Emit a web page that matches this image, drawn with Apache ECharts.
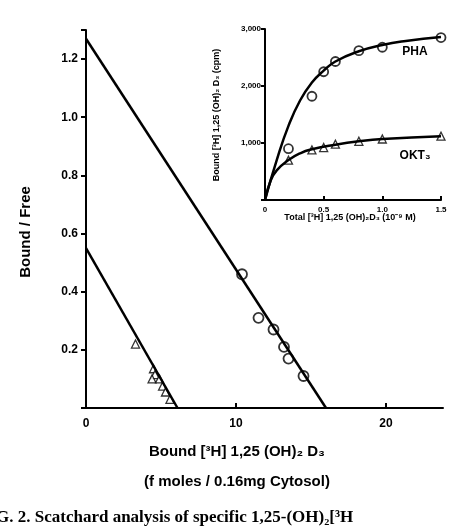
<!DOCTYPE html><html><head><meta charset="utf-8">
<script src="https://cdn.jsdelivr.net/npm/echarts@6/dist/echarts.min.js"></script>
<style>body{margin:0;background:#fff}#c{width:474px;height:528px}</style></head><body><div id="c"></div>
<script>
const phaScatchard = [[10.4,0.46],[11.5,0.31],[12.5,0.27],[13.2,0.21],[13.5,0.17],[14.5,0.11]];
const phaLine = [[0,1.27],[16,0]];
const oktScatchard = [[3.3,0.22],[4.5,0.135],[4.6,0.115],[4.4,0.1],[4.9,0.1],[5.1,0.075],[5.3,0.055],[5.6,0.03]];
const oktLine = [[0,0.55],[6.1,0]];
const phaSat = [[0.2,900],[0.4,1820],[0.5,2250],[0.6,2430],[0.8,2620],[1.0,2680],[1.5,2850]];
const phaCurve = [[0,0],[0.1,700],[0.2,1300],[0.3,1750],[0.4,2060],[0.5,2270],[0.6,2430],[0.8,2610],[1.0,2720],[1.2,2790],[1.5,2860]];
const oktSat = [[0.2,700],[0.4,880],[0.5,920],[0.6,980],[0.8,1030],[1.0,1070],[1.5,1120]];
const oktCurve = [[0,0],[0.05,350],[0.1,520],[0.2,700],[0.3,820],[0.4,890],[0.6,970],[0.8,1030],[1.0,1070],[1.5,1120]];
const mainYTicks = [0.2,0.4,0.6,0.8,1.0,1.2];
const F = 'Liberation Sans';
const tri = 'path://M0,10L5,0L10,10Z';
const ax = {lineStyle:{color:'#000',width:2}};
const chart = echarts.init(document.getElementById('c'));
chart.setOption({
  animation:false,
  textStyle:{fontFamily:F},
  grid:[{left:86,top:30,right:31,bottom:120},{left:265,top:29,right:33,bottom:328}],
  xAxis:[
    {gridIndex:0,type:'value',min:0,max:23.8,interval:10,axisLine:ax,axisTick:{inside:true,length:5,lineStyle:{width:2}},splitLine:{show:false},
     axisLabel:{color:'#000',fontWeight:'bold',fontSize:12,showMaxLabel:false,margin:10}},
    {gridIndex:1,type:'value',min:0,max:1.5,interval:0.5,axisLine:ax,axisTick:{inside:true,length:4,lineStyle:{width:2}},splitLine:{show:false},
     axisLabel:{color:'#000',fontWeight:'bold',fontSize:8,margin:6,formatter:v=>v===0?'0':(v===1?'1.0':String(v))}}
  ],
  yAxis:[
    {gridIndex:0,type:'value',min:0,max:1.3,interval:0.2,axisLine:ax,axisTick:{inside:false,length:5,lineStyle:{width:2}},splitLine:{show:false},
     axisLabel:{color:'#000',fontWeight:'bold',fontSize:12,formatter:v=>mainYTicks.some(t=>Math.abs(t-v)<1e-6)?v.toFixed(1):''}},
    {gridIndex:1,type:'value',min:0,max:3000,interval:1000,axisLine:ax,axisTick:{inside:false,length:4,lineStyle:{width:2}},splitLine:{show:false},
     axisLabel:{color:'#000',fontWeight:'bold',fontSize:8,margin:4,formatter:v=>v===0?'':v.toLocaleString('en-US')}}
  ],
  series:[
    {type:'line',xAxisIndex:0,yAxisIndex:0,data:phaLine,symbol:'none',lineStyle:{color:'#000',width:2.5}},
    {type:'line',xAxisIndex:0,yAxisIndex:0,data:oktLine,symbol:'none',lineStyle:{color:'#000',width:2.5}},
    {type:'scatter',xAxisIndex:0,yAxisIndex:0,data:phaScatchard,symbol:'circle',symbolSize:10,itemStyle:{color:'#fff',borderColor:'#000',borderWidth:1.8}},
    {type:'scatter',xAxisIndex:0,yAxisIndex:0,data:oktScatchard,symbol:tri,symbolSize:8,itemStyle:{color:'#fff',borderColor:'#000',borderWidth:1.3}},
    {type:'line',xAxisIndex:1,yAxisIndex:1,data:phaCurve,smooth:true,symbol:'none',lineStyle:{color:'#000',width:2.5}},
    {type:'line',xAxisIndex:1,yAxisIndex:1,data:oktCurve,smooth:true,symbol:'none',lineStyle:{color:'#000',width:2.5}},
    {type:'scatter',xAxisIndex:1,yAxisIndex:1,data:phaSat,symbol:'circle',symbolSize:9,itemStyle:{color:'#fff',borderColor:'#000',borderWidth:1.8}},
    {type:'scatter',xAxisIndex:1,yAxisIndex:1,data:oktSat,symbol:tri,symbolSize:8,itemStyle:{color:'#fff',borderColor:'#000',borderWidth:1.3}}
  ],
  graphic:[
    {type:'text',left:'center',top:444,style:{text:'Bound [³H] 1,25 (OH)₂ D₃',font:'bold 15px '+F,fill:'#000'}},
    {type:'text',left:'center',top:474,style:{text:'(f moles / 0.16mg Cytosol)',font:'bold 15px '+F,fill:'#000'}},
    {type:'text',x:26,y:232,rotation:Math.PI/2,style:{text:'Bound / Free',font:'bold 15px '+F,fill:'#000',align:'center',verticalAlign:'middle'}},
    {type:'text',x:217,y:115,rotation:Math.PI/2,style:{text:'Bound [³H] 1,25 (OH)₂ D₃ (cpm)',font:'bold 9px '+F,fill:'#000',align:'center',verticalAlign:'middle'}},
    {type:'text',x:350,y:218,style:{text:'Total [³H] 1,25 (OH)₂D₃ (10⁻⁹ M)',font:'bold 9px '+F,fill:'#000',align:'center',verticalAlign:'middle'}},
    {type:'text',x:415,y:52,style:{text:'PHA',font:'bold 12px '+F,fill:'#000',align:'center',verticalAlign:'middle'}},
    {type:'text',x:415,y:156,style:{text:'OKT₃',font:'bold 12px '+F,fill:'#000',align:'center',verticalAlign:'middle'}},
    {type:'text',x:-4,y:509,style:{text:'G. 2. Scatchard analysis of specific 1,25-(OH)₂[³H',font:'bold 17px Liberation Serif',fill:'#000'}}
  ]
});
</script></body></html>
